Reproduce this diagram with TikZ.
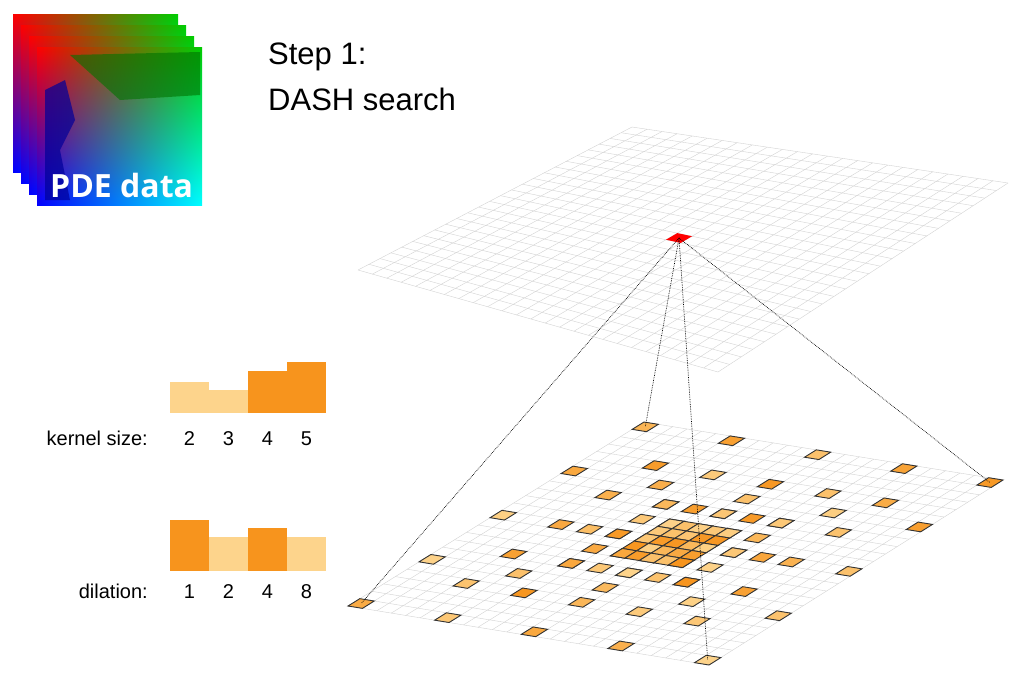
\documentclass[tikz,border=0pt]{standalone}
\usepackage{fontspec}
\setmainfont{Liberation Sans}
\newfontfamily\boldsans{Open Sans}
\usetikzlibrary{calc,shadings}
\definecolor{darkor}{RGB}{247,148,29}
\definecolor{lightor}{RGB}{253,212,140}
\definecolor{gridgray}{RGB}{210,210,210}
\newcommand{\planept}[5]{($($(#1A)!#3!(#1B)$)!#4!($(#1D)!#3!(#1C)$)$)}% plane, -, u, v
\newcommand{\samplecell}[3]{%
  \pgfmathsetmacro\ua{(#1)/25}\pgfmathsetmacro\ub{(#1+1)/25}%
  \pgfmathsetmacro\va{(#2)/25}\pgfmathsetmacro\vb{(#2+1)/25}%
  \filldraw[cellbox,fill=#3] \planept{b}{}{\ua}{\va}{} -- \planept{b}{}{\ub}{\va}{} -- \planept{b}{}{\ub}{\vb}{} -- \planept{b}{}{\ua}{\vb}{} -- cycle;}
\begin{document}
\begin{tikzpicture}[x=1pt,y=-1pt]
      \tikzstyle{every node}=[inner sep=0pt]
      \tikzstyle{cellbox}=[draw=black!80,line width=0.9pt]
      \useasboundingbox (0,0) rectangle (1024,678);
      %% PDE data stack
\foreach \k in {0,1,2,3}
  \shade[upper left=red,upper right=green!80!black,lower left=blue,lower right=cyan] (13+8*\k,14+11*\k) rectangle ++(165,158);
\fill[green!45!black,opacity=0.6] (70,55) -- (200,52) -- (200,95) -- (120,100) -- cycle;
\fill[blue!60!black,opacity=0.7] (45,90) -- (65,80) -- (75,120) -- (60,150) -- (70,200) -- (45,200) -- cycle;
\node (pde) [anchor=base west,text=white,font=\boldsans\bfseries\fontsize{32}{32}\selectfont] at (50,197) {PDE data};
\node (step) [anchor=base west,align=left,font=\fontsize{31}{46}\selectfont] at (268,110) {Step 1:\\DASH search};
      %% planes
\coordinate (tA) at (632,127); \coordinate (tB) at (1008,183);
\coordinate (tC) at (718,372); \coordinate (tD) at (358,270);
\coordinate (bA) at (644,422); \coordinate (bB) at (1003,480);
\coordinate (bC) at (709,665); \coordinate (bD) at (348,606);
\foreach \p in {t,b} {
  \foreach \i in {0,...,25} {
    \pgfmathsetmacro\s{\i/25}
    \draw[gridgray,line width=0.4pt] ($(\p A)!\s!(\p B)$) -- ($(\p D)!\s!(\p C)$);
    \draw[gridgray,line width=0.4pt] ($(\p A)!\s!(\p D)$) -- ($(\p B)!\s!(\p C)$);
  }
}
\fill[red] \planept{t}{}{12/25}{12/25}{} -- \planept{t}{}{13/25}{12/25}{} -- \planept{t}{}{13/25}{13/25}{} -- \planept{t}{}{12/25}{13/25}{} -- cycle;
\path \planept{t}{}{0.5}{0.5}{} coordinate (red);
      %% sampled cells
\pgfmathsetseed{11}
\foreach \d in {6,4,2,1}
  \foreach \a in {-2,...,2}
    \foreach \b in {-2,...,2} {
      \pgfmathrandominteger{\r}{0}{100}
      \pgfmathtruncatemacro\ci{12+\d*\a}
      \pgfmathtruncatemacro\cj{12+\d*\b}
      \samplecell{\ci}{\cj}{darkor!\r!lightor}
    }
\path \planept{b}{}{0.02}{0.02}{} coordinate (c1);
\path \planept{b}{}{0.98}{0.02}{} coordinate (c2);
\path \planept{b}{}{0.98}{0.98}{} coordinate (c3);
\path \planept{b}{}{0.02}{0.98}{} coordinate (c4);
\foreach \c in {c1,c2,c3,c4}
  \draw[densely dotted,line width=0.7pt] (red) -- (\c);
      %% bar charts
\foreach \x/\h/\col/\lab [count=\n] in {170/382/lightor/2,209/390/lightor/3,248/371/darkor/4,287/362/darkor/5} {
  \fill[\col] (\x,\h) rectangle (\x+39,413);
  \node (k\n) [anchor=base,font=\fontsize{20}{20}\selectfont] at (\x+19.5,445) {\lab};
}
\node (klab) [anchor=base east,font=\fontsize{20}{20}\selectfont] at (148,445) {kernel size:};
\foreach \x/\h/\col/\lab [count=\n] in {170/520/darkor/1,209/537/lightor/2,248/528/darkor/4,287/537/lightor/8} {
  \fill[\col] (\x,\h) rectangle (\x+39,571);
  \node (d\n) [anchor=base,font=\fontsize{20}{20}\selectfont] at (\x+19.5,598) {\lab};
}
\node (dlab) [anchor=base east,font=\fontsize{20}{20}\selectfont] at (148,598) {dilation:};
%
    \end{tikzpicture}
\end{document}
